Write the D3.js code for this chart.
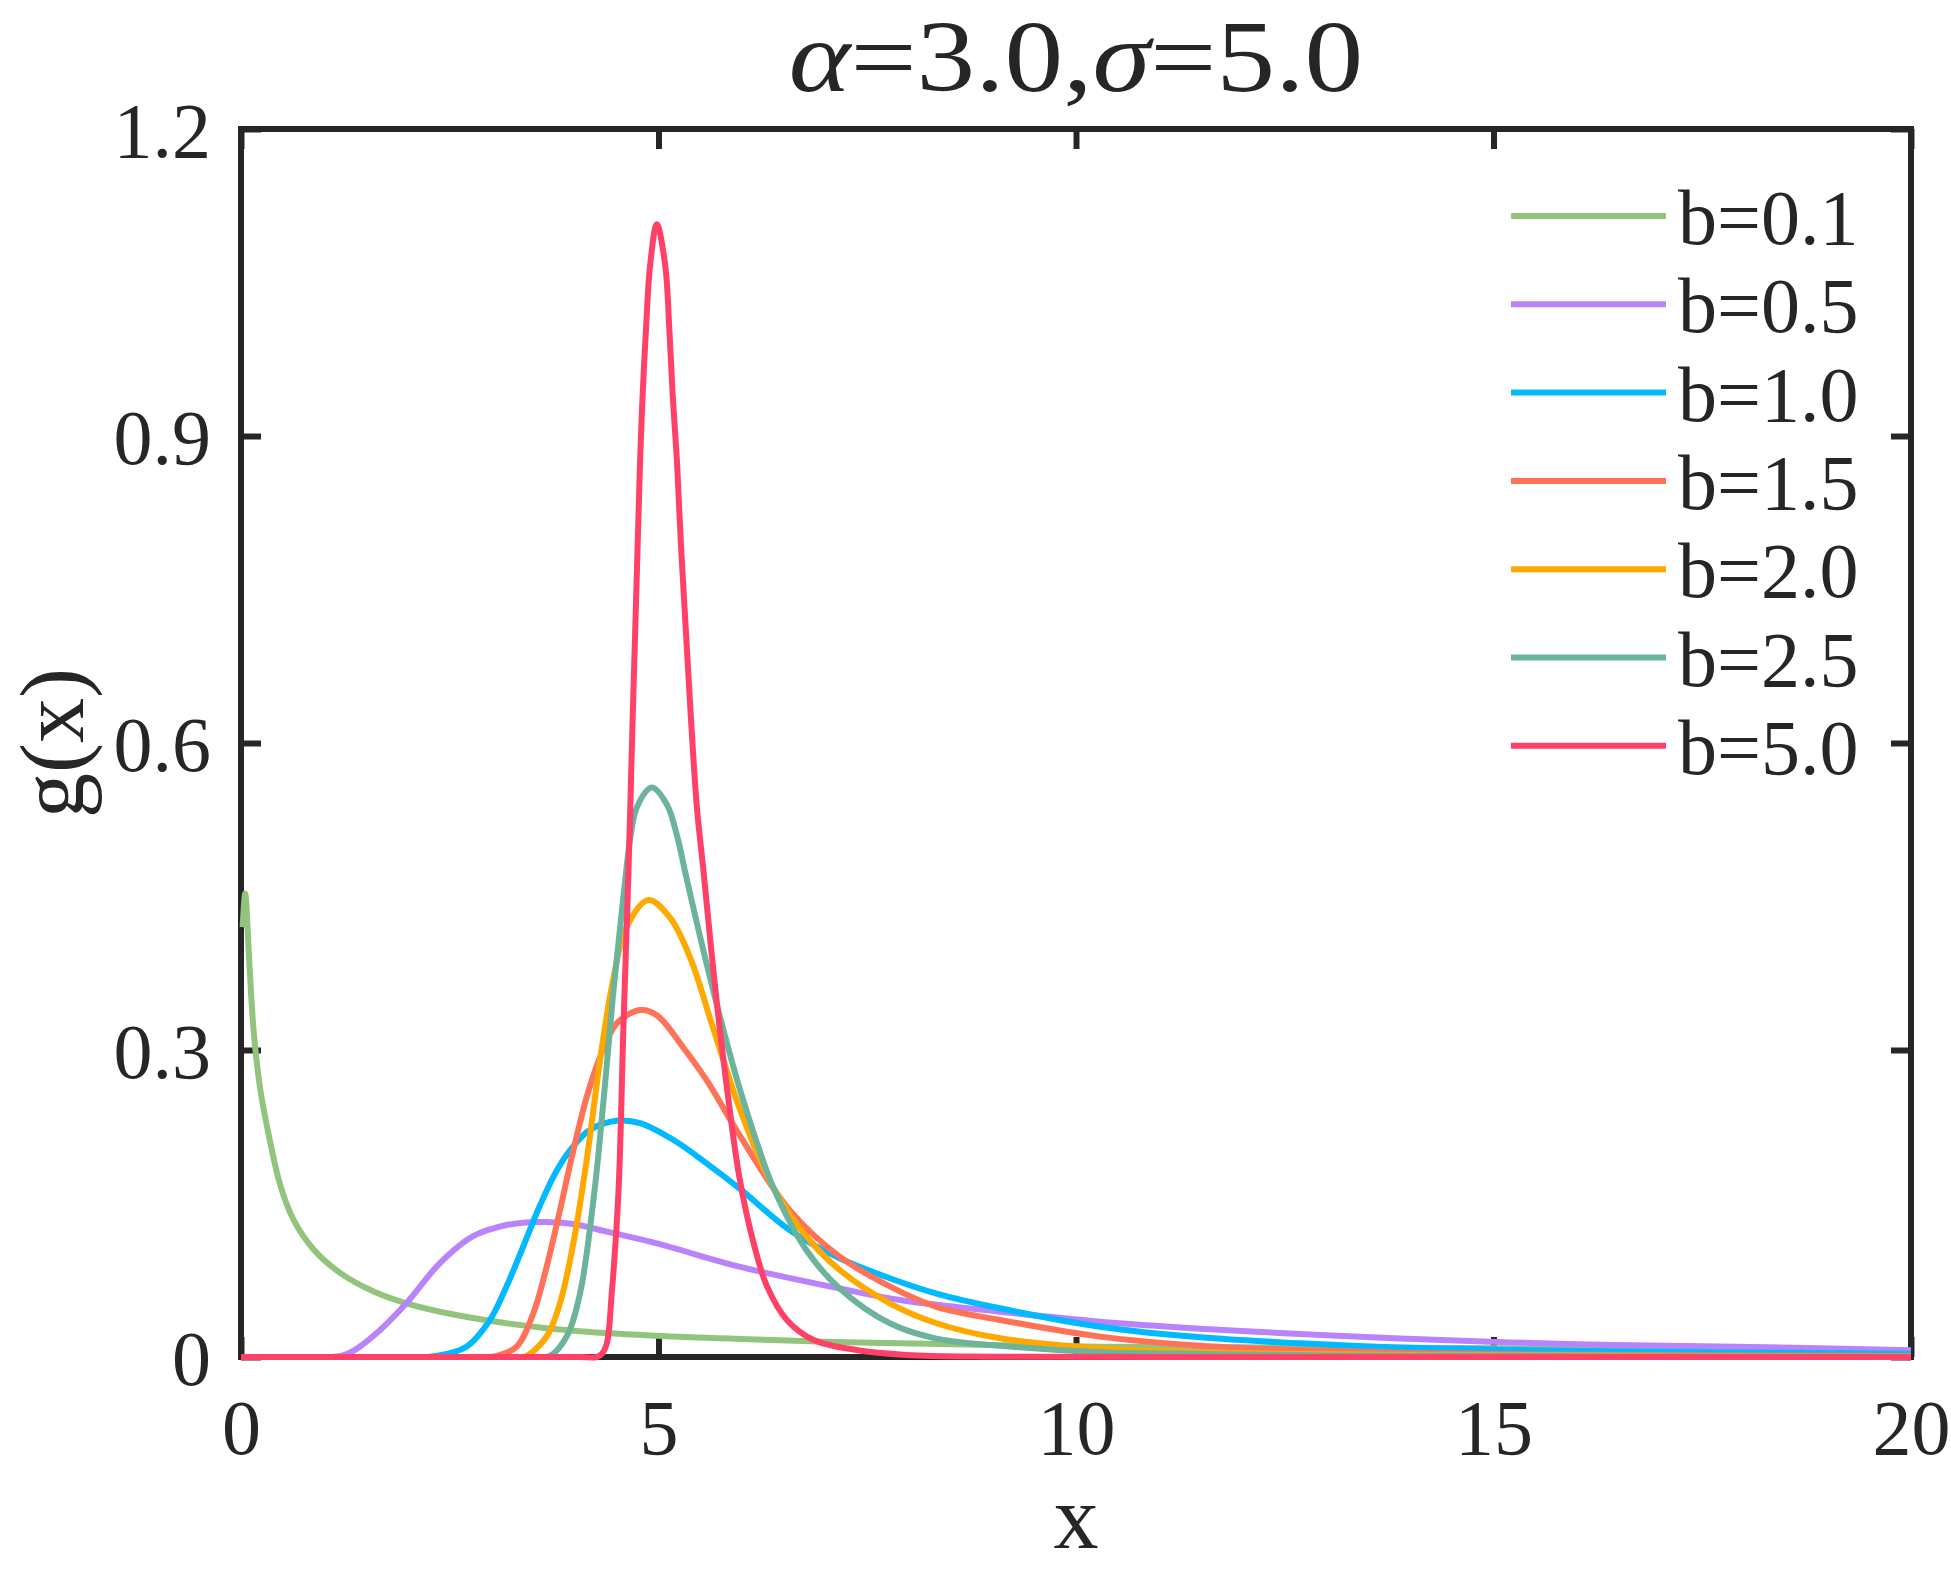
<!DOCTYPE html>
<html>
<head>
<meta charset="utf-8">
<script src="https://cdn.jsdelivr.net/npm/d3@7"></script>
<style>
  body { margin: 0; background: #fff; }
  svg { display: block; }
  text { font-family: 'Liberation Serif', 'Times New Roman', serif; fill: #262626; }
</style>
</head>
<body>
<div id="chart"></div>
<script>
// values
const labels = ['b=0.1', 'b=0.5', 'b=1.0', 'b=1.5', 'b=2.0', 'b=2.5', 'b=5.0']
const colors = ['#93c47d', '#b983fb', '#00b9ff', '#ff7257', '#ffa800', '#6bb39b', '#ff4067']

const xTicks = [0, 5, 10, 15, 20]
const yTicks = [0, 0.3, 0.6, 0.9, 1.2]

const xB01 = [0.02, 0.05, 0.1, 0.15, 0.23, 0.35, 0.47, 0.63, 0.87, 1.19, 1.59, 1.98, 2.58, 3.18, 3.98, 4.98, 5.98, 7.0, 7.89, 9.09, 10.29, 11.9, 13.88, 15.5, 17.5, 19.5, 20]
const yB01 = [0.42, 0.453, 0.385, 0.32, 0.262, 0.21, 0.168, 0.134, 0.105, 0.082, 0.064, 0.0525, 0.041, 0.033, 0.0257, 0.0208, 0.0176, 0.015, 0.0134, 0.0115, 0.0101, 0.0095, 0.009, 0.0083, 0.007, 0.0052, 0.005]

const xB05 = [0, 0.5, 0.9, 1.05, 1.2, 1.345, 1.66, 1.98, 2.38, 2.78, 3.18, 3.58, 3.98, 4.38, 4.98, 5.98, 7.17, 7.89, 9.09, 10.29, 11.49, 12.68, 13.88, 15.89, 17.91, 20]
const yB05 = [0, 0, 0, 0, 0.001, 0.006, 0.026, 0.0525, 0.0915, 0.118, 0.129, 0.132, 0.13, 0.1225, 0.111, 0.088, 0.067, 0.0557, 0.0443, 0.0345, 0.0277, 0.0225, 0.018, 0.0127, 0.0101, 0.0067]

const xB10 = [0, 1.5, 2.0, 2.2, 2.34, 2.7, 2.98, 3.18, 3.38, 3.58, 3.78, 3.98, 4.18, 4.52, 4.78, 5.18, 5.58, 5.98, 6.57, 7.17, 7.77, 8.33, 9.09, 10.29, 11.49, 12.68, 13.88, 15.89, 17.91, 20]
const yB10 = [0, 0, 0, 0, 0.001, 0.01, 0.036, 0.069, 0.108, 0.148, 0.182, 0.206, 0.222, 0.231, 0.2285, 0.212, 0.189, 0.164, 0.124, 0.0965, 0.077, 0.062, 0.0476, 0.0296, 0.0192, 0.0134, 0.0093, 0.0062, 0.0045, 0.0032]

const xB15 = [0, 2.2, 2.7, 2.9, 3.06, 3.3, 3.5, 3.66, 3.82, 3.98, 4.14, 4.3, 4.5, 4.78, 4.98, 5.3, 5.58, 5.98, 6.57, 7.17, 7.77, 8.33, 9.09, 10.29, 11.49, 12.68, 13.88, 15.5, 20]
const yB15 = [0, 0, 0, 0, 0.001, 0.01, 0.0425, 0.088, 0.1435, 0.202, 0.254, 0.293, 0.326, 0.339, 0.334, 0.302, 0.27, 0.2155, 0.1435, 0.098, 0.069, 0.049, 0.0362, 0.0199, 0.011, 0.0068, 0.0042, 0.0025, 0.001]

const xB20 = [0, 2.6, 3.1, 3.3, 3.42, 3.66, 3.82, 3.98, 4.14, 4.3, 4.46, 4.62, 4.88, 5.14, 5.38, 5.66, 5.98, 6.37, 6.77, 7.17, 7.77, 8.33, 9.09, 10.29, 11.49, 12.68, 14, 20]
const yB20 = [0, 0, 0, 0, 0.001, 0.02, 0.0525, 0.111, 0.1925, 0.29, 0.37, 0.4205, 0.4465, 0.429, 0.39, 0.32, 0.241, 0.1665, 0.118, 0.085, 0.0525, 0.033, 0.0183, 0.0085, 0.0046, 0.003, 0.002, 0.0005]

const xB25 = [0, 2.9, 3.4, 3.6, 3.7, 3.9, 4.06, 4.23, 4.35, 4.45, 4.52, 4.62, 4.66, 4.74, 4.92, 5.1, 5.22, 5.33, 5.58, 5.82, 5.98, 6.18, 6.37, 6.77, 7.17, 7.77, 8.33, 9.09, 10.29, 11.49, 13, 20]
const yB25 = [0, 0, 0, 0, 0.001, 0.02, 0.062, 0.16, 0.258, 0.349, 0.404, 0.48, 0.506, 0.537, 0.5565, 0.54, 0.51, 0.47, 0.383, 0.3065, 0.26, 0.209, 0.1665, 0.1045, 0.067, 0.033, 0.018, 0.011, 0.0046, 0.003, 0.0015, 0.0003]

const xB50 = [0, 3.6, 4.06, 4.26, 4.32, 4.38, 4.44, 4.52, 4.58, 4.64, 4.69, 4.72, 4.75, 4.78, 4.81, 4.85, 4.9, 4.98, 5.08, 5.13, 5.17, 5.22, 5.27, 5.33, 5.39, 5.46, 5.54, 5.68, 5.84, 5.97, 6.14, 6.3, 6.54, 6.86, 7.37, 7.97, 9, 11, 20]
const yB50 = [0, 0, 0, 0, 0.003, 0.013, 0.062, 0.16, 0.323, 0.474, 0.622, 0.707, 0.792, 0.877, 0.94, 1.004, 1.067, 1.107, 1.067, 1.004, 0.94, 0.877, 0.792, 0.707, 0.622, 0.537, 0.474, 0.36, 0.25, 0.175, 0.111, 0.069, 0.036, 0.0166, 0.0068, 0.002, 0.0003, 0, 0]

const seriesX = [xB01, xB05, xB10, xB15, xB20, xB25, xB50]
const seriesY = [yB01, yB05, yB10, yB15, yB20, yB25, yB50]

const W = 1951
const H = 1569
const margin = { top: 129, right: 40, bottom: 212, left: 241 }
const width = W - margin.left - margin.right
const height = H - margin.top - margin.bottom
const ink = '#262626'
const axisWidth = 6
const curveWidth = 6
const serif = "'Liberation Serif', 'Times New Roman', serif"

const svg = d3
  .select('#chart')
  .append('svg')
  .attr('width', W)
  .attr('height', H)

svg.append('rect').attr('width', W).attr('height', H).attr('fill', '#fff')

const g = svg.append('g').attr('transform', 'translate(' + margin.left + ',' + margin.top + ')')

const x = d3.scaleLinear().domain([0, 20]).range([0, width])
const y = d3.scaleLinear().domain([0, 1.2]).range([height, 0])

// axes, ticks pointing inward
const xAxis = d3.axisBottom(x).tickValues(xTicks).tickSize(-20).tickSizeOuter(0).tickPadding(42)
const xAxisTop = d3.axisTop(x).tickValues(xTicks).tickSize(-20).tickSizeOuter(0).tickFormat('')
const yAxis = d3
  .axisLeft(y)
  .tickValues(yTicks)
  .tickSize(-20)
  .tickSizeOuter(0)
  .tickPadding(30)
  .tickFormat(d => (d === 0 ? '0' : d3.format('.1f')(d)))
const yAxisRight = d3.axisRight(y).tickValues(yTicks).tickSize(-20).tickSizeOuter(0).tickFormat('')

function styleAxis(sel) {
  sel.select('.domain').remove()
  sel.selectAll('.tick line').attr('stroke', ink).attr('stroke-width', axisWidth)
  sel
    .selectAll('.tick text')
    .attr('fill', ink)
    .style('font-family', serif)
    .style('font-size', '78px')
}

g.append('g').attr('transform', 'translate(0,' + height + ')').call(xAxis).call(styleAxis)
g.append('g').call(xAxisTop).call(styleAxis)
g.append('g').call(yAxis).call(styleAxis).selectAll('.tick text').attr('dy', '0.35em')
g.append('g').attr('transform', 'translate(' + width + ',0)').call(yAxisRight).call(styleAxis)

g.append('rect')
  .attr('width', width)
  .attr('height', height)
  .attr('fill', 'none')
  .attr('stroke', ink)
  .attr('stroke-width', axisWidth)

// curves
const line = d3
  .line()
  .x(d => x(d[0]))
  .y(d => y(d[1]))
  .curve(d3.curveCatmullRom.alpha(0.5))

labels.forEach((label, i) => {
  const pts = seriesX[i].map((v, j) => [v, seriesY[i][j]])
  g.append('path')
    .datum(pts)
    .attr('fill', 'none')
    .attr('stroke', colors[i])
    .attr('stroke-width', curveWidth)
    .attr('stroke-linejoin', 'round')
    .attr('d', line)
})

// legend
const legend = g.append('g').attr('transform', 'translate(' + (1511 - margin.left) + ',' + (216 - margin.top) + ')')
labels.forEach((label, i) => {
  const row = legend.append('g').attr('transform', 'translate(0,' + i * 88.3 + ')')
  row.append('line')
    .attr('x1', 0)
    .attr('x2', 155)
    .attr('stroke', colors[i])
    .attr('stroke-width', curveWidth)
  row.append('text')
    .attr('x', 167)
    .attr('y', 28)
    .style('font-family', serif)
    .style('font-size', '78px')
    .attr('fill', '#000')
    .text(label)
})

// title, drawn a little wider than the font as in the reference
const title = svg
  .append('text')
  .attr('transform', 'translate(' + (margin.left + width / 2) + ',91) scale(1.15,1)')
  .attr('text-anchor', 'middle')
  .style('font-family', serif)
  .style('font-size', '102px')
  .attr('fill', '#000')
title.append('tspan').style('font-style', 'italic').text('α')
title.append('tspan').text('=3.0,')
title.append('tspan').style('font-style', 'italic').text('σ')
title.append('tspan').text('=5.0')

// axis labels
svg.append('text')
  .attr('x', margin.left + width / 2)
  .attr('y', 1548)
  .attr('text-anchor', 'middle')
  .style('font-family', serif)
  .style('font-size', '90px')
  .attr('fill', ink)
  .text('x')

svg.append('text')
  .attr('transform', 'translate(83,' + (margin.top + height / 2) + ') rotate(-90)')
  .attr('text-anchor', 'middle')
  .style('font-family', serif)
  .style('font-size', '90px')
  .attr('fill', '#404040')
  .text('g(x)')
</script>
</body>
</html>
